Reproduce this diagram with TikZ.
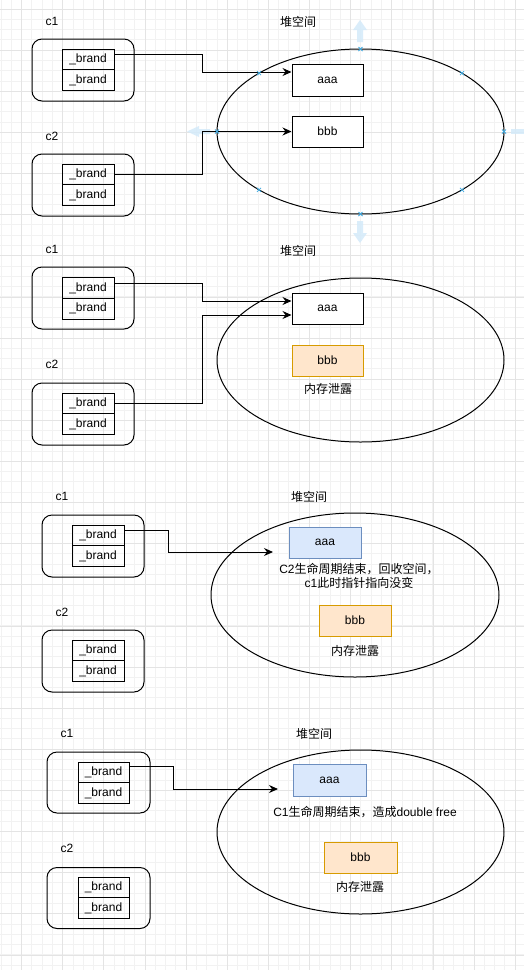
\documentclass[tikz,border=0pt]{standalone}
\usepackage{fontspec}
\setmainfont{Liberation Sans}
\newfontfamily\cjk{Noto Sans CJK SC}
\usetikzlibrary{shapes.geometric,arrows.meta,calc}
\definecolor{gridminor}{HTML}{F2F2F2}
\definecolor{gridmajor}{HTML}{E4E4E4}
\definecolor{ofill}{HTML}{FFE6CC}
\definecolor{ostroke}{HTML}{D79B00}
\definecolor{bfill}{HTML}{DAE8FC}
\definecolor{bstroke}{HTML}{6C8EBF}
\definecolor{hintblue}{HTML}{D4EAFA}
\definecolor{markblue}{HTML}{3FA9E0}
\begin{document}
\begin{tikzpicture}[x=1pt,y=-1pt,
  txt/.style={inner sep=0pt, font=\fontsize{12}{14}\selectfont},
  objbox/.style={draw, line width=1pt, rounded corners=10pt, minimum width=102pt, minimum height=62pt, inner sep=0pt},
  cell/.style={draw, line width=1pt, minimum width=52pt, minimum height=20.75pt, inner sep=0pt, font=\fontsize{12}{14}\selectfont},
  heap/.style={draw, line width=1pt, ellipse, inner sep=0pt, minimum width=287pt, minimum height=164pt},
  memw/.style={draw, line width=1pt, fill=white, minimum width=71pt, minimum height=31pt, inner sep=0pt, font=\fontsize{12}{14}\selectfont},
  memo/.style={memw, draw=ostroke, fill=ofill},
  memb/.style={memw, draw=bstroke, fill=bfill},
  ptr/.style={draw, line width=1pt, -{Stealth[length=9pt,width=8pt,inset=3pt]}},
  hint/.style={fill=hintblue, draw=none, opacity=0.85},
  xmark/.style={draw=markblue, line width=0.8pt}
]
\useasboundingbox (0,0) rectangle (524,970);
\fill[white] (0,0) rectangle (524,970);
% grid
\foreach \k in {0,...,50} {\draw[gridminor, line width=0.8pt] ({1.04+10.28*\k},0) -- ({1.04+10.28*\k},970);}
\foreach \k in {0,...,93} {\draw[gridminor, line width=0.8pt] (0,{9+10.28*\k}) -- (524,{9+10.28*\k});}
\foreach \k in {0,...,12} {\draw[gridmajor, line width=0.8pt] ({21.6+41.13*\k},0) -- ({21.6+41.13*\k},970);}
\foreach \k in {0,...,23} {\draw[gridmajor, line width=0.8pt] (0,{9+41.13*\k}) -- (524,{9+41.13*\k});}

% ================= Panel 1 =================
\node[txt] (p1c1l) at (52,21) {c1};
\node[txt] (p1c2l) at (52,136) {c2};
\node[txt] (p1heapl) at (298,22) {\cjk 堆空间};
\node[objbox] (p1c1) at (83,70) {};
\node[cell] (p1c1t) at (88,59.6) {\_brand};
\node[cell] (p1c1b) at (88,80.3) {\_brand};
\node[objbox] (p1c2) at (83,185) {};
\node[cell] (p1c2t) at (88,174.6) {\_brand};
\node[cell] (p1c2b) at (88,195.3) {\_brand};
\node[heap, minimum height=165pt] (p1heap) at (360.5,131.5) {};
\node[memw, minimum height=32pt] (p1aaa) at (327.5,80) {aaa};
\node[memw] (p1bbb) at (327.5,131.5) {bbb};
% selection hints
\fill[hint] (357,42) -- (357,30) -- (353,30) -- (360,20) -- (367,30) -- (363,30) -- (363,42) -- cycle;
\fill[hint] (357,221) -- (357,233) -- (353,233) -- (360,243) -- (367,233) -- (363,233) -- (363,221) -- cycle;
\fill[hint] (210,129) -- (199,129) -- (199,126) -- (187,131.5) -- (199,137) -- (199,134) -- (210,134) -- cycle;
\fill[hint] (511,129) -- (524,129) -- (524,134) -- (511,134) -- cycle;
\draw[ptr] ([yshift=5pt]p1c1t.east) -- ++(88,0) |- ([yshift=8pt]p1aaa.west);
\draw[ptr] (p1c2t.east) -- ++(88,0) |- (p1bbb.west);
\foreach \a in {0,45,...,315} {
  \draw[xmark] ($(p1heap.center)+(\a:143.5 and 82.5)$) +(-2,-2) -- +(2,2) +(-2,2) -- +(2,-2);
}

% ================= Panel 2 =================
\node[txt] (p2c1l) at (52,249) {c1};
\node[txt] (p2c2l) at (52,364) {c2};
\node[txt] (p2heapl) at (298,251) {\cjk 堆空间};
\node[objbox] (p2c1) at (83,298) {};
\node[cell] (p2c1t) at (88,288) {\_brand};
\node[cell] (p2c1b) at (88,308.7) {\_brand};
\node[objbox] (p2c2) at (83,414) {};
\node[cell] (p2c2t) at (88,403.6) {\_brand};
\node[cell] (p2c2b) at (88,424.3) {\_brand};
\node[heap] (p2heap) at (360.5,360) {};
\node[memw] (p2aaa) at (327.5,308.5) {aaa};
\node[memo] (p2bbb) at (327.5,360.5) {bbb};
\node[txt] (p2leak) at (328,389) {\cjk 内存泄露};
\draw[ptr] ([yshift=5pt]p2c1t.east) -- ++(88,0) |- ([yshift=7.5pt]p2aaa.west);
\draw[ptr] (p2c2t.east) -- ++(88,0) |- ([yshift=-6.5pt]p2aaa.west);

% ================= Panel 3 =================
\node[txt] (p3c1l) at (62,496) {c1};
\node[txt] (p3c2l) at (62,612) {c2};
\node[txt] (p3heapl) at (309,497) {\cjk 堆空间};
\node[objbox] (p3c1) at (93,546) {};
\node[cell] (p3c1t) at (98,535.5) {\_brand};
\node[cell] (p3c1b) at (98,556.2) {\_brand};
\node[objbox] (p3c2) at (93,661) {};
\node[cell] (p3c2t) at (98,650.6) {\_brand};
\node[cell] (p3c2b) at (98,671.3) {\_brand};
\node[heap, minimum width=288pt] (p3heap) at (355,595) {};
\node[memb, minimum width=72pt] (p3aaa) at (325,542.5) {aaa};
\node[txt, align=center] (p3note) at (359,576) {C2{\cjk 生命周期结束，回收空间，}\\c1{\cjk 此时指针指向没变}};
\node[memo, minimum width=72pt] (p3bbb) at (355,620.5) {bbb};
\node[txt] (p3leak) at (355,651) {\cjk 内存泄露};
\coordinate (p3end) at (273,552);
\draw[ptr] ([yshift=5pt]p3c1t.east) -- ++(44,0) |- (p3end);

% ================= Panel 4 =================
\node[txt] (p4c1l) at (67,733) {c1};
\node[txt] (p4c2l) at (67,848) {c2};
\node[txt] (p4heapl) at (314,734) {\cjk 堆空间};
\node[objbox, minimum width=103pt, minimum height=61pt] (p4c1) at (98.5,782.5) {};
\node[cell, minimum width=51pt] (p4c1t) at (103.5,772.5) {\_brand};
\node[cell, minimum width=51pt] (p4c1b) at (103.5,793.2) {\_brand};
\node[objbox, minimum width=103pt, minimum height=61pt] (p4c2) at (98.5,898) {};
\node[cell, minimum width=51pt] (p4c2t) at (103.5,887.5) {\_brand};
\node[cell, minimum width=51pt] (p4c2b) at (103.5,908.2) {\_brand};
\node[heap] (p4heap) at (360.5,832) {};
\node[memb, minimum width=73pt, minimum height=32pt] (p4aaa) at (329.5,780) {aaa};
\node[txt] (p4note) at (365,812) {C1{\cjk 生命周期结束，造成}double free};
\node[memo, minimum width=73pt] (p4bbb) at (360.5,857.5) {bbb};
\node[txt] (p4leak) at (360,887) {\cjk 内存泄露};
\coordinate (p4end) at (278,789);
\draw[ptr] ([yshift=6pt]p4c1t.east) -- ++(44,0) |- (p4end);
\end{tikzpicture}
\end{document}
